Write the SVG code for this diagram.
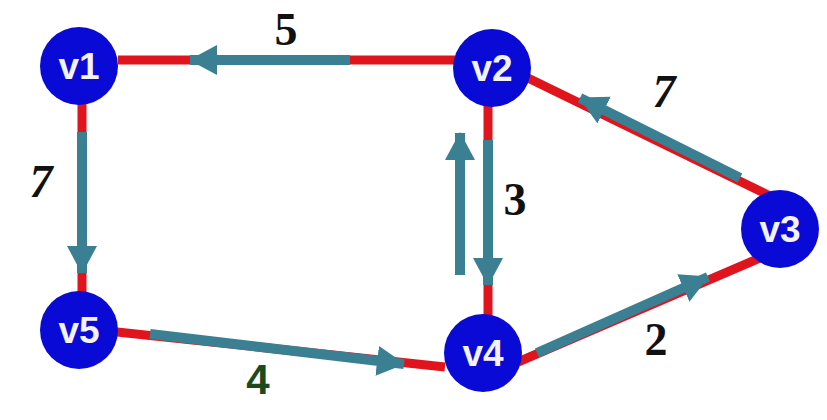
<svg xmlns="http://www.w3.org/2000/svg" width="827" height="420" viewBox="0 0 827 420">
<style>
.edge{stroke:#e0141c;stroke-width:9;fill:none}
.flow{stroke:#3b7f93;stroke-width:10;fill:none}
.node circle{fill:#0a0ad6}
.node text{fill:#f2f2f2;font-family:"Liberation Sans",Arial,sans-serif;font-weight:bold;font-size:37px;text-anchor:middle}
.w{font-family:"Liberation Serif","Times New Roman",serif;font-weight:bold;font-size:46px;fill:#111;text-anchor:middle}
</style>
<defs>
<marker id="ah" markerUnits="userSpaceOnUse" markerWidth="30" markerHeight="32" refX="27" refY="15" orient="auto">
<path d="M0,0 L28,15 L0,30 z" fill="#3b7f93"/>
</marker>
</defs>
<rect width="827" height="420" fill="#ffffff"/>
<g id="connectors">
<line class="edge" x1="118" y1="60" x2="455" y2="60"/>
<line class="edge" x1="82" y1="100" x2="82" y2="295"/>
<line class="edge" x1="117" y1="332" x2="445" y2="367"/>
<line class="edge" x1="488" y1="100" x2="488" y2="318"/>
<line class="edge" x1="528" y1="78" x2="770" y2="196"/>
<line class="edge" x1="518" y1="362" x2="762" y2="257"/>
<line class="flow" x1="350" y1="60" x2="190" y2="60" marker-end="url(#ah)"/>
<line class="flow" x1="82" y1="132" x2="82" y2="273" marker-end="url(#ah)"/>
<line class="flow" x1="150" y1="334" x2="404" y2="364" marker-end="url(#ah)"/>
<line class="flow" x1="488" y1="140" x2="488" y2="285" marker-end="url(#ah)"/>
<line class="flow" x1="460" y1="275" x2="460" y2="133" marker-end="url(#ah)"/>
<line class="flow" x1="740" y1="178" x2="580" y2="98" marker-end="url(#ah)"/>
<line class="flow" x1="537" y1="353" x2="708" y2="277" marker-end="url(#ah)"/>
<text class="w" x="286" y="45">5</text>
<text class="w" x="41" y="197" font-style="italic">7</text>
<text class="w" x="664" y="107" font-style="italic">7</text>
<text class="w" x="515" y="215">3</text>
<text class="w" x="656" y="355">2</text>
<text x="258" y="394" font-family="Liberation Sans,Arial,sans-serif" font-weight="bold" font-size="42" fill="#1d4a1d" text-anchor="middle">4</text>
</g>
<g id="v1" class="node"><circle cx="79" cy="66" r="39"/><text x="79" y="79">v1</text></g>
<g id="v2" class="node"><circle cx="492" cy="68" r="39"/><text x="492" y="81">v2</text></g>
<g id="v3" class="node"><circle cx="780" cy="229" r="39"/><text x="780" y="242">v3</text></g>
<g id="v4" class="node"><circle cx="483" cy="353" r="39"/><text x="483" y="366">v4</text></g>
<g id="v5" class="node"><circle cx="79" cy="330" r="39"/><text x="79" y="343">v5</text></g>
</svg>
